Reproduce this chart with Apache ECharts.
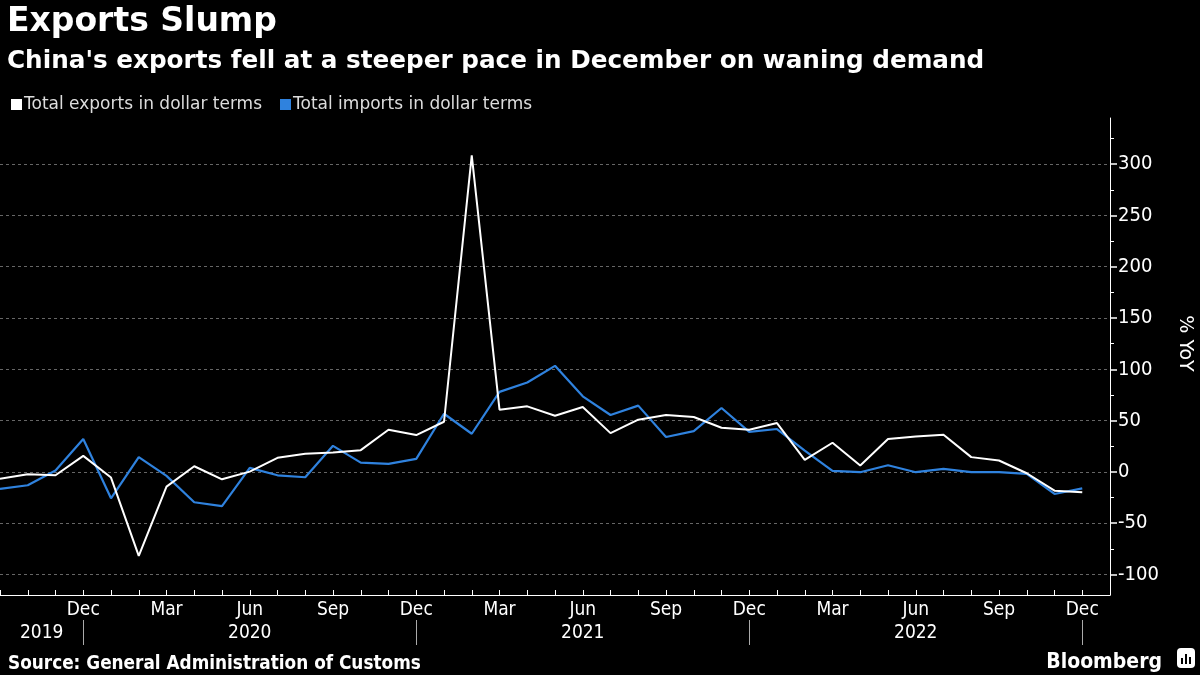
<!DOCTYPE html>
<html>
<head>
<meta charset="utf-8">
<script src="https://cdn.jsdelivr.net/npm/echarts@6/dist/echarts.min.js"></script>
<style>
  html, body { margin: 0; padding: 0; background: #000; }
  #chart { width: 1200px; height: 675px; }
</style>
</head>
<body>
<div id="chart"></div>
<script>
// monthly, Sep 2019 .. Jan 2023 (last slot is just axis room)
const months = [
  '2019-09','2019-10','2019-11','2019-12',
  '2020-01','2020-02','2020-03','2020-04','2020-05','2020-06','2020-07','2020-08','2020-09','2020-10','2020-11','2020-12',
  '2021-01','2021-02','2021-03','2021-04','2021-05','2021-06','2021-07','2021-08','2021-09','2021-10','2021-11','2021-12',
  '2022-01','2022-02','2022-03','2022-04','2022-05','2022-06','2022-07','2022-08','2022-09','2022-10','2022-11','2022-12',
  '2023-01'
]
const monthNames = ['Jan','Feb','Mar','Apr','May','Jun','Jul','Aug','Sep','Oct','Nov','Dec']

// % YoY
const exportsYoY = [
  -6.8, -2.3, -3.3, 15.6, -5.5, -81.9, -14.4, 5.5, -7.2, 0.3, 13.7, 17.6,
  18.9, 21.2, 41.1, 35.9, 48.9, 308.5, 60.7, 63.9, 54.8, 63.3, 37.8, 50.9,
  55.5, 53.5, 43.0, 41.1, 47.6, 11.7, 28.4, 6.2, 32.0, 34.6, 36.2, 14.4,
  11.1, -1.3, -18.3, -19.9
]
const importsYoY = [
  -16.6, -13.0, 1.3, 32.0, -25.7, 14.4, -3.9, -29.6, -33.3, 3.9, -3.3, -5.2,
  25.4, 9.1, 7.8, 12.7, 56.7, 37.2, 78.0, 87.1, 103.4, 73.7, 55.5, 64.6,
  34.0, 39.8, 62.3, 39.1, 41.8, 20.8, 1.0, -0.3, 6.5, -0.3, 2.9, -0.3,
  -0.3, -2.0, -21.5, -16.0
]

const yTicks = [-100, -50, 0, 50, 100, 150, 200, 250, 300]
const yMinorTicks = [-75, -25, 25, 75, 125, 175, 225, 275, 325]
const yMin = -120, yMax = 345

// year separators sit on the Decembers, year labels centred between them
const decIdx = months.map((m, i) => m.endsWith('-12') ? i : -1).filter(i => i >= 0)
const yearLabelPos = decIdx.map((d, k) => ((k === 0 ? 0 : decIdx[k - 1]) + d) / 2)
const yearNames = decIdx.map(d => months[d].slice(0, 4))

const narrow = "'DejaVu Sans Condensed', 'DejaVu Sans', sans-serif"
const blue = '#2f82de'
const gridLine = { show: true, lineStyle: { color: '#666', type: [3, 3], width: 1 } }

const chart = echarts.init(document.getElementById('chart'))
chart.setOption({
  backgroundColor: '#000',
  animation: false,
  textStyle: { fontFamily: narrow },
  title: [
    { text: 'Exports Slump', left: 2, top: 1,
      textStyle: { color: '#fff', fontSize: 33, fontWeight: 'bold', fontFamily: "'DejaVu Sans', sans-serif" } },
    { text: "China's exports fell at a steeper pace in December on waning demand", left: 2, top: 44,
      textStyle: { color: '#fff', fontSize: 24.7, fontWeight: 'bold', fontFamily: "'DejaVu Sans', sans-serif" } },
    { text: 'Source: General Administration of Customs', left: 3, top: 650,
      textStyle: { color: '#fff', fontSize: 18.8, fontWeight: 'bold', fontFamily: narrow } },
    { text: 'Bloomberg', right: 33, top: 647,
      textStyle: { color: '#fff', fontSize: 21, fontWeight: 'bold', fontFamily: narrow } }
  ],
  graphic: [
    { type: 'group', right: 5, top: 648, children: [
      { type: 'rect', shape: { x: 0, y: 0, width: 18, height: 20, r: 4 }, style: { fill: '#fff' } },
      { type: 'rect', shape: { x: 4, y: 10, width: 2, height: 6 }, style: { fill: '#000' } },
      { type: 'rect', shape: { x: 8, y: 6, width: 2, height: 10 }, style: { fill: '#000' } },
      { type: 'rect', shape: { x: 12, y: 9, width: 2, height: 7 }, style: { fill: '#000' } }
    ] }
  ],
  legend: {
    left: 6, top: 91,
    icon: 'rect', itemWidth: 11, itemHeight: 11, itemGap: 18,
    textStyle: { color: '#ddd', fontSize: 17, fontFamily: "'DejaVu Sans', sans-serif", padding: [0, 0, 0, -3] },
    data: [
      { name: 'Total exports in dollar terms', itemStyle: { color: '#fff' } },
      { name: 'Total imports in dollar terms', itemStyle: { color: blue } }
    ]
  },
  grid: { left: 0, right: 90, top: 118, bottom: 80, outerBoundsMode: 'none', containLabel: false },
  xAxis: [
    {
      type: 'category',
      data: months,
      boundaryGap: false,
      axisLine: { onZero: false, lineStyle: { color: '#fff', width: 1 } },
      axisTick: { inside: true, length: 5, alignWithLabel: true, interval: 0, lineStyle: { color: '#fff' } },
      axisLabel: {
        color: '#fff', fontSize: 19, margin: 6,
        interval: (i, v) => i > 0 && [3, 6, 9, 12].includes(+v.slice(5)),
        formatter: v => monthNames[+v.slice(5) - 1]
      },
      splitLine: { show: false }
    },
    {
      type: 'value',
      min: 0, max: months.length - 1,
      position: 'bottom',
      offset: 25,
      axisLine: { show: false, onZero: false },
      axisTick: { show: true, length: 25, customValues: decIdx, lineStyle: { color: '#aaa' } },
      axisLabel: {
        color: '#fff', fontSize: 19, margin: 4,
        customValues: yearLabelPos,
        formatter: v => yearNames[yearLabelPos.indexOf(v)]
      },
      splitLine: { show: false }
    }
  ],
  yAxis: [
    {
      type: 'value',
      position: 'right',
      min: yMin, max: yMax,
      name: '% YoY',
      nameLocation: 'middle',
      nameGap: 65,
      nameRotate: -90,
      nameMoveOverlap: false,
      nameTextStyle: { color: '#fff', fontSize: 19, fontFamily: "'DejaVu Sans', sans-serif", padding: [0, 26, 0, 0] },
      axisLine: { show: true, onZero: false, lineStyle: { color: '#fff', width: 1 } },
      axisTick: { show: true, length: 7, customValues: yTicks, lineStyle: { color: '#fff', width: 1.5 } },
      axisLabel: { color: '#fff', fontSize: 20, margin: 8, customValues: yTicks },
      splitLine: gridLine
    },
    {
      type: 'value',
      position: 'right',
      min: yMin, max: yMax,
      axisLine: { show: false, onZero: false },
      axisTick: { show: true, length: 4, customValues: yMinorTicks, lineStyle: { color: '#fff' } },
      axisLabel: { show: false },
      splitLine: { show: false }
    }
  ],
  series: [
    {
      name: 'Total exports in dollar terms',
      type: 'line',
      data: exportsYoY,
      showSymbol: false,
      lineStyle: { color: '#fff', width: 2 },
      itemStyle: { color: '#fff' },
      z: 3
    },
    {
      name: 'Total imports in dollar terms',
      type: 'line',
      data: importsYoY,
      showSymbol: false,
      lineStyle: { color: blue, width: 2.2 },
      itemStyle: { color: blue },
      z: 2
    }
  ]
})
</script>
</body>
</html>
